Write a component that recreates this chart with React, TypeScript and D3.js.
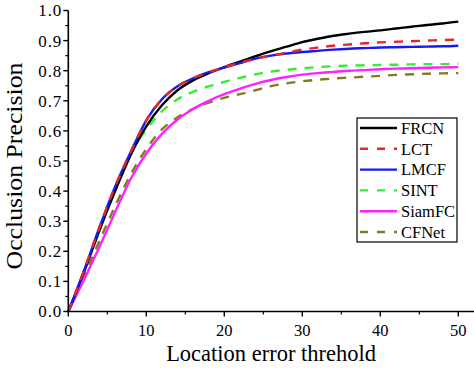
import React from "react";
import * as d3 from "d3";

const xValues = [0, 2, 4, 6, 8, 10, 12, 14, 16, 18, 20, 22, 24, 26, 28, 30, 32, 34, 36, 38, 40, 42, 44, 46, 48, 50];

const frcn = [0.0, 0.13, 0.27, 0.40, 0.52, 0.615, 0.685, 0.735, 0.768, 0.792, 0.812, 0.83, 0.848, 0.865, 0.88, 0.895, 0.906, 0.916, 0.923, 0.929, 0.934, 0.94, 0.946, 0.952, 0.957, 0.963];
const lct = [0.0, 0.135, 0.28, 0.415, 0.53, 0.635, 0.705, 0.748, 0.775, 0.795, 0.812, 0.826, 0.84, 0.85, 0.86, 0.87, 0.877, 0.883, 0.887, 0.891, 0.894, 0.896, 0.898, 0.9, 0.902, 0.903];
const lmcf = [0.0, 0.135, 0.28, 0.415, 0.53, 0.635, 0.705, 0.748, 0.775, 0.795, 0.81, 0.825, 0.84, 0.85, 0.857, 0.862, 0.866, 0.87, 0.873, 0.875, 0.877, 0.878, 0.879, 0.88, 0.881, 0.883];
const sint = [0.0, 0.13, 0.27, 0.41, 0.525, 0.605, 0.665, 0.705, 0.73, 0.748, 0.763, 0.776, 0.788, 0.797, 0.803, 0.808, 0.812, 0.815, 0.817, 0.818, 0.819, 0.82, 0.821, 0.822, 0.822, 0.823];
const siamfc = [0.0, 0.105, 0.215, 0.33, 0.44, 0.525, 0.59, 0.638, 0.673, 0.70, 0.722, 0.74, 0.756, 0.769, 0.779, 0.787, 0.792, 0.796, 0.8, 0.802, 0.805, 0.807, 0.808, 0.81, 0.811, 0.812];
const cfnet = [0.0, 0.115, 0.235, 0.35, 0.455, 0.54, 0.605, 0.645, 0.673, 0.694, 0.71, 0.722, 0.735, 0.749, 0.758, 0.765, 0.77, 0.774, 0.777, 0.78, 0.783, 0.786, 0.788, 0.79, 0.791, 0.792];

const seriesNames = ["FRCN", "LCT", "LMCF", "SINT", "SiamFC", "CFNet"];
const seriesValues = [frcn, lct, lmcf, sint, siamfc, cfnet];
const seriesColors = ["#000000", "#e8262a", "#1a1aee", "#33ee33", "#ff22ff", "#857a22"];
const seriesDashed = [false, true, false, true, false, true];

const xTicks = [0, 10, 20, 30, 40, 50];
const xMinor = [5, 15, 25, 35, 45];
const yTicks = [0, 0.1, 0.2, 0.3, 0.4, 0.5, 0.6, 0.7, 0.8, 0.9, 1.0];
const yMinor = [0.05, 0.15, 0.25, 0.35, 0.45, 0.55, 0.65, 0.75, 0.85, 0.95];

const xTitle = "Location error threhold";
const yTitle = "Occlusion Precision";

const FONT = "'Liberation Serif', 'Times New Roman', Times, serif";

export default function App() {
  const W = 474, H = 369;
  const x = d3.scaleLinear().domain([0, 50]).range([68.3, 458.3]);
  const y = d3.scaleLinear().domain([0, 1]).range([311.5, 10.5]);
  const xEnd = 474;

  const line = d3.line<[number, number]>()
    .x(d => x(d[0]))
    .y(d => y(d[1]))
    .curve(d3.curveMonotoneX);

  const order = [5, 4, 3, 0, 2, 1];

  const legX = 357, legY = 118, legW = 100, legH = 124;
  const legStep = 20.8;
  const legFirst = 128;

  return (
    <svg width={W} height={H} style={{ position: "absolute", left: 0, top: 0, background: "#fff" }}
      fontFamily={FONT}>
      <rect x={0} y={0} width={W} height={H} fill="#fff" />
      {order.map(i => (
        <path key={seriesNames[i]}
          d={line(xValues.map((xv, k) => [xv, seriesValues[i][k]] as [number, number])) || ""}
          fill="none" stroke={seriesColors[i]} strokeWidth={2.4}
          strokeDasharray={seriesDashed[i] ? "9,8" : undefined} />
      ))}
      <line x1={x(0)} x2={xEnd} y1={y(0)} y2={y(0)} stroke="#000" strokeWidth={1.6} />
      <line x1={x(0)} x2={x(0)} y1={y(0) + 0.8} y2={y(1)} stroke="#000" strokeWidth={1.6} />
      {xTicks.map(t => (
        <g key={"xt" + t}>
          <line x1={x(t)} x2={x(t)} y1={y(0)} y2={y(0) + 5} stroke="#000" strokeWidth={1.4} />
          <text x={x(t)} y={336} textAnchor="middle" fontSize={16.5} fill="#000">{t}</text>
        </g>
      ))}
      {xMinor.map(t => (
        <line key={"xm" + t} x1={x(t)} x2={x(t)} y1={y(0)} y2={y(0) + 3} stroke="#000" strokeWidth={1.2} />
      ))}
      {yTicks.map(t => (
        <g key={"yt" + t}>
          <line x1={x(0) - 5} x2={x(0)} y1={y(t)} y2={y(t)} stroke="#000" strokeWidth={1.4} />
          <text x={62} y={y(t)} dy="0.35em" textAnchor="end" fontSize={17} letterSpacing={0.8} fill="#000">{t.toFixed(1)}</text>
        </g>
      ))}
      {yMinor.map(t => (
        <line key={"ym" + t} x1={x(0) - 3} x2={x(0)} y1={y(t)} y2={y(t)} stroke="#000" strokeWidth={1.2} />
      ))}
      <text x={x(26)} y={361} textAnchor="middle" fontSize={22.5} fill="#000">{xTitle}</text>
      <text transform={`translate(22, ${166}) rotate(-90)`} textAnchor="middle" fontSize={24}
        textLength={207} lengthAdjust="spacingAndGlyphs" fill="#000">{yTitle}</text>
      <rect x={legX} y={legY} width={legW} height={legH} fill="#fff" stroke="#000" strokeWidth={1.2} />
      {seriesNames.map((n, i) => {
        const cy = legFirst + i * legStep;
        return (
          <g key={"lg" + n}>
            <line x1={360} x2={397} y1={cy} y2={cy} stroke={seriesColors[i]} strokeWidth={2.4}
              strokeDasharray={seriesDashed[i] ? "8,9" : undefined} />
            <text x={401} y={cy} dy="0.35em" fontSize={16.5} fill="#000">{n}</text>
          </g>
        );
      })}
    </svg>
  );
}
